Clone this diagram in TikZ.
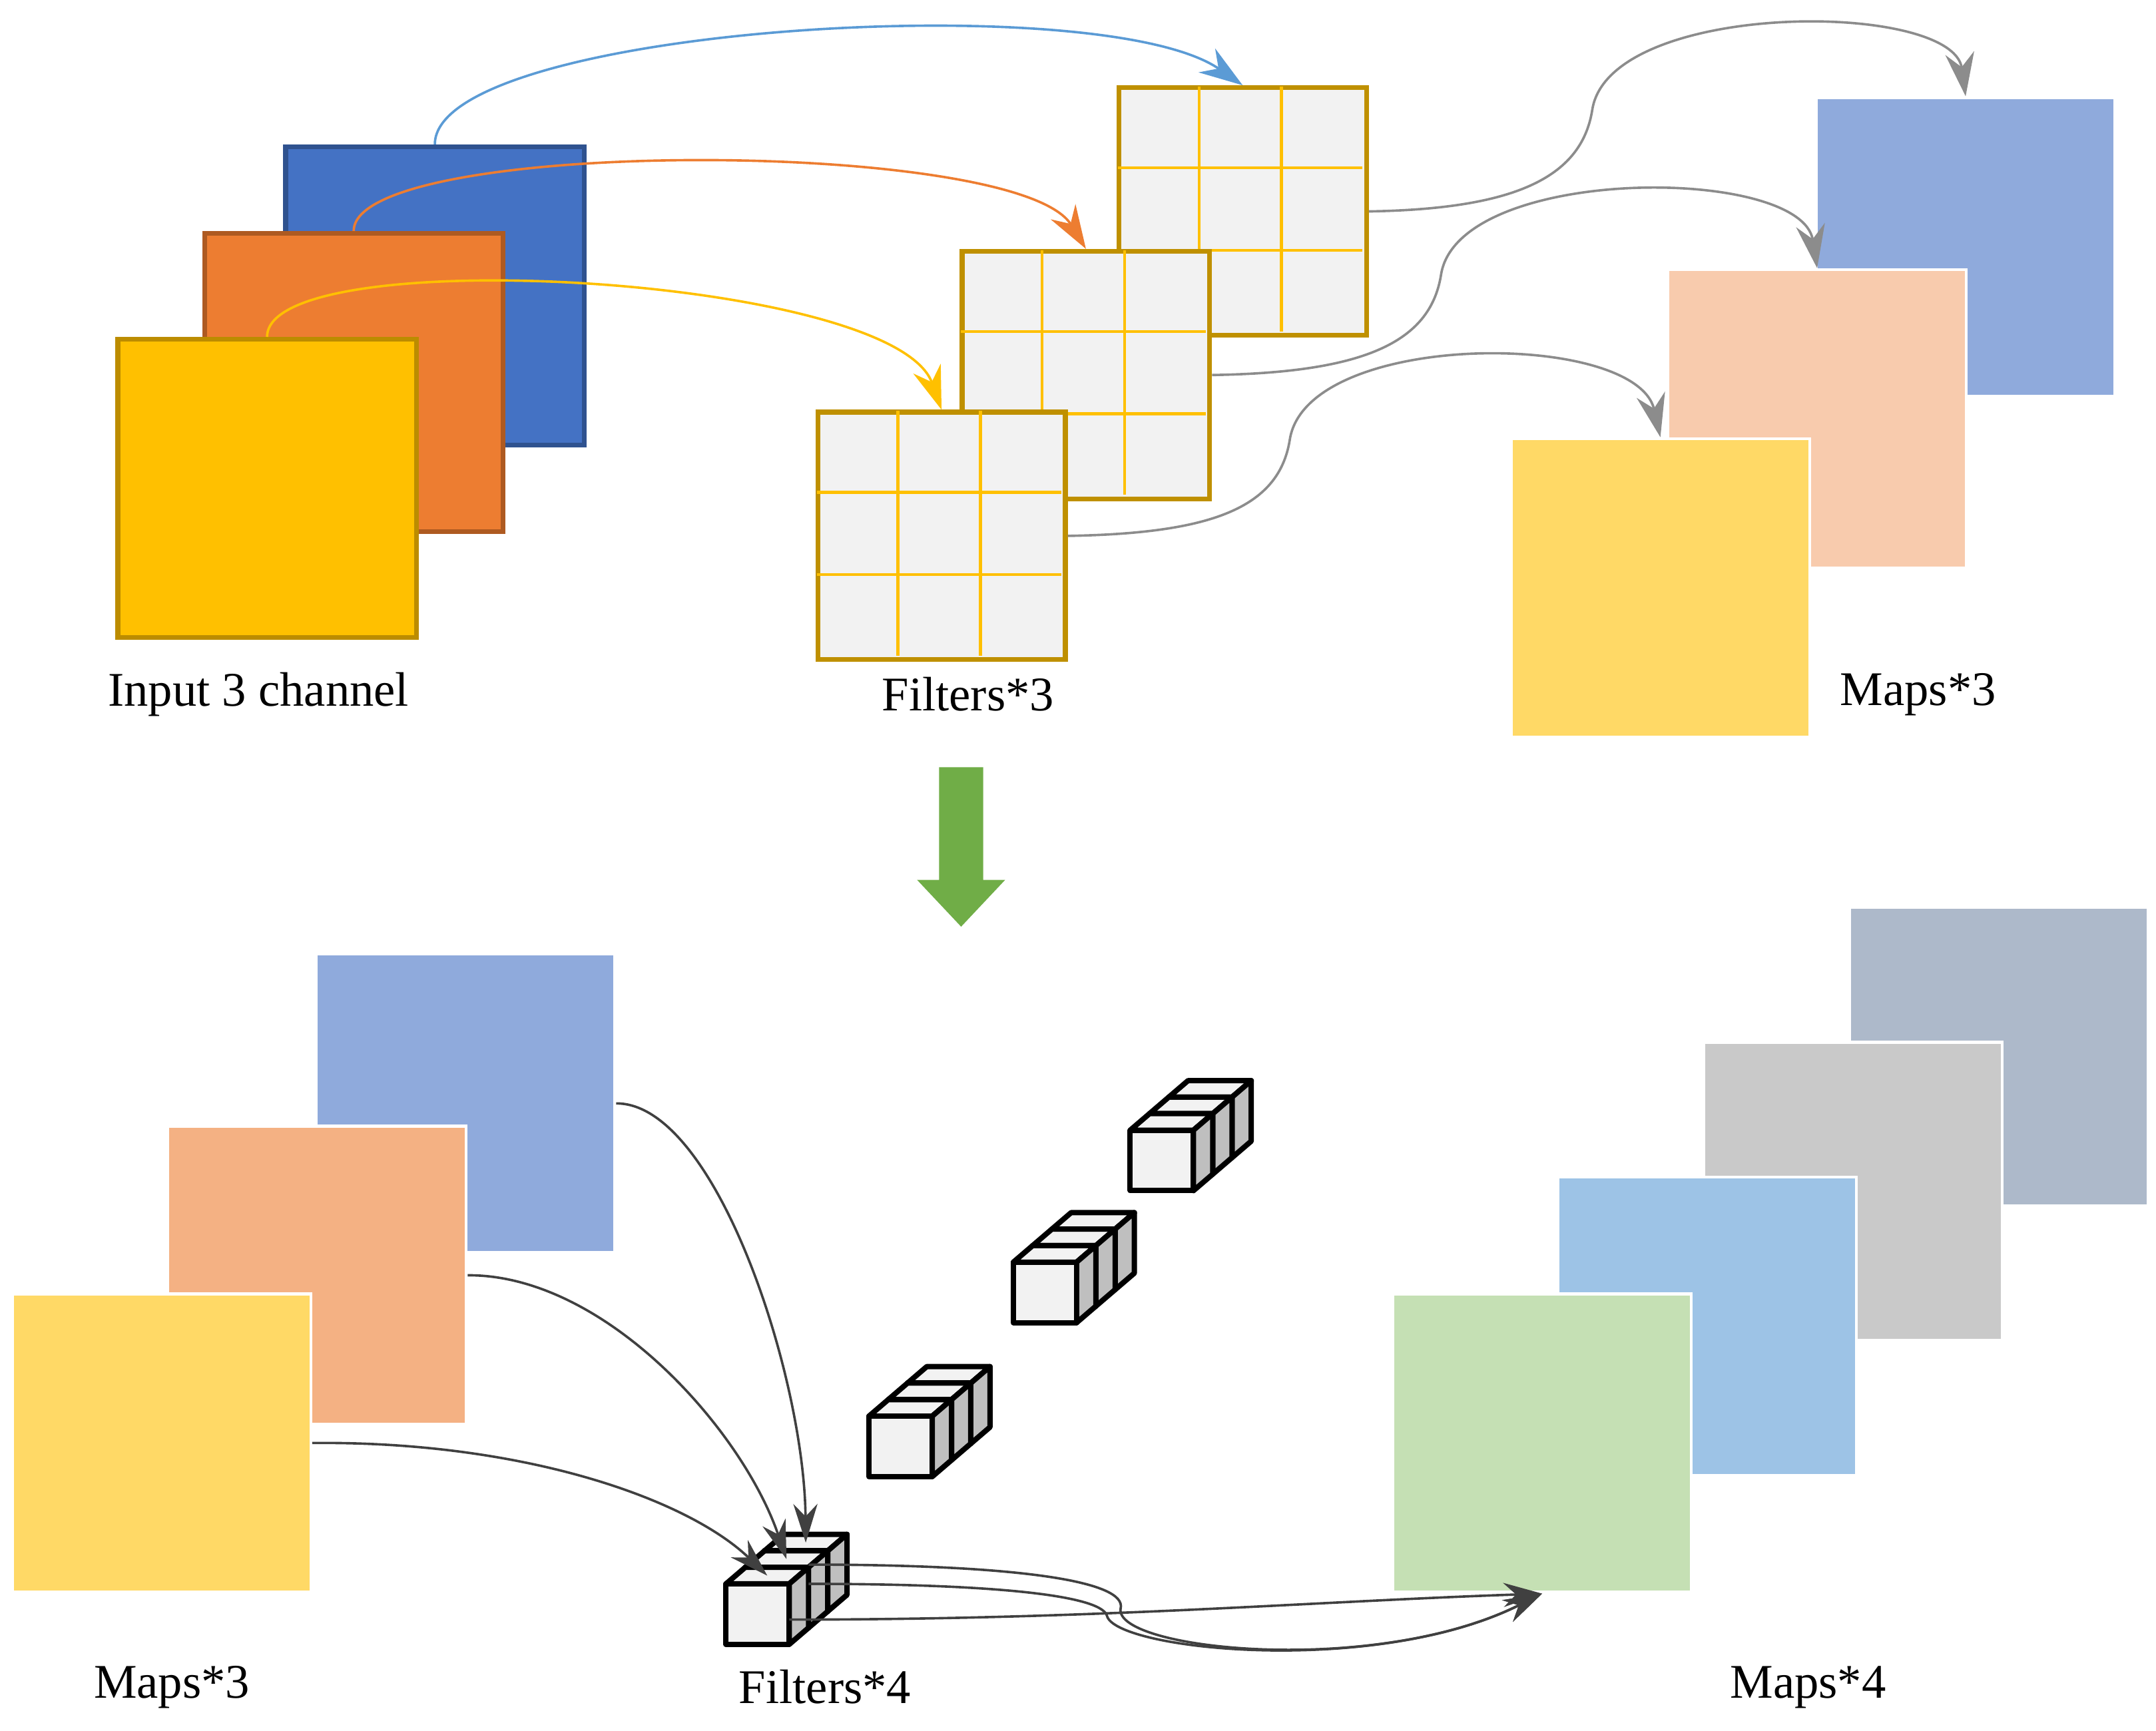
\documentclass[tikz,border=0pt]{standalone}
\usepackage{fontspec}
\setmainfont{Liberation Serif}
\usetikzlibrary{arrows.meta,calc}
\definecolor{inB}{HTML}{4472C4}\definecolor{inBd}{HTML}{2F528F}
\definecolor{inO}{HTML}{ED7D31}\definecolor{inOd}{HTML}{AE5A21}
\definecolor{inY}{HTML}{FFC000}\definecolor{inYd}{HTML}{BC8C00}
\definecolor{mB}{HTML}{8FAADC}\definecolor{mP}{HTML}{F8CBAD}\definecolor{mY}{HTML}{FFD966}
\definecolor{mO}{HTML}{F4B183}\definecolor{mG}{HTML}{ADB9CA}\definecolor{mGr}{HTML}{C9C9C9}
\definecolor{mLB}{HTML}{9DC3E6}\definecolor{mGn}{HTML}{C5E0B4}
\definecolor{arB}{HTML}{5B9BD5}\definecolor{gold}{HTML}{BF9000}\definecolor{grn}{HTML}{70AD47}
\tikzset{
 sq/.style={anchor=north west,inner sep=0,minimum width=217\unitx,minimum height=217\unity},
 inmap/.style={sq,draw=#1,line width=1pt},
 fmap/.style={sq,fill=#1,draw=white,line width=0.6pt},
 filt/.style={anchor=north west,inner sep=0,minimum width=180\unitx,minimum height=180\unity,fill=black!5,draw=gold,line width=1pt},
 conn/.style={line width=0.5pt,-{Stealth[length=9pt,width=6pt]}},
 lbl/.style={font=\fontsize{10}{12}\selectfont},
 cube/.style={draw=black,line width=1.1pt,line join=round},
 cstack/.pic={
  \foreach \k in {2,1,0}{
   \pgfmathsetmacro\ox{\k*14}\pgfmathsetmacro\oy{-\k*12}
   \filldraw[cube,fill=black!5] (\ox,\oy) -- ++(14,-12) -- ++(46,0) -- ++(-14,12) -- cycle;
   \filldraw[cube,fill=black!25] (\ox+46,\oy) -- ++(14,-12) -- ++(0,44) -- ++(-14,12) -- cycle;
   \filldraw[cube,fill=black!5] (\ox,\oy) rectangle ++(46,44);
   \coordinate (-t\k) at (\ox+30,\oy-6);
  }
  \coordinate (-s2) at (60,-14);
  \coordinate (-s1) at (60,0);
  \coordinate (-f0) at (46,26);
 }
}
\def\unitx{\pgflinewidth}
\begin{document}
\begin{tikzpicture}[x=0.01cm,y=-0.01cm]
\def\unitx{*0.01cm}\def\unity{*0.01cm}
\useasboundingbox (0,0) rectangle (1568,1259);
% top input maps
\node[inmap=inBd,fill=inB] (ib) at (206,105) {};
\node[inmap=inOd,fill=inO] (io) at (147,168) {};
\node[inmap=inYd,fill=inY] (iy) at (84,245) {};
% filters
\foreach \n/\x/\y in {fa/812/62,fb/698/181,fc/593/298}{
 \node[filt] (\n) at (\x,\y) {};
 \draw[inY,line width=0.6pt] (\x+60,\y+1)--(\x+60,\y+179) (\x+120,\y+1)--(\x+120,\y+179)
   (\x+1,\y+60)--(\x+179,\y+60) (\x+1,\y+120)--(\x+179,\y+120);
}
% top maps
\node[fmap=mB] (ma) at (1320,70) {};
\node[fmap=mP] (mb) at (1212,195) {};
\node[fmap=mY] (mc) at (1098,318) {};
% labels
\node[lbl] (l1) at (188,505) {Input 3 channel};
\node[lbl] (l2) at (704,505) {Filters*3};
\node[lbl] (l3) at (1395,505) {Maps*3};
% connectors top
\draw[conn,arB] (ib.north) .. controls (316,20) and (800,-10) .. (fa.north);
\draw[conn,inO] (io.north) .. controls (257,100) and (740,100) .. (fb.north);
\draw[conn,inY] (iy.north) .. controls (194,175) and (650,200) .. (fc.north);
\draw[conn,black!45] (fa.east) .. controls (1100,152) and (1150,130) .. (1158,80) .. controls (1170,0) and (1420,0) .. (ma.north);
\draw[conn,black!45] (fb.east) .. controls (990,271) and (1040,250) .. (1048,200) .. controls (1060,120) and (1310,120) .. (mb.north);
\draw[conn,black!45] (fc.east) .. controls (880,388) and (930,370) .. (938,320) .. controls (950,240) and (1190,240) .. (mc.north);
% green arrow
\fill[grn] (683,558) -- (715,558) -- (715,640) -- (731,640) -- (699,674) -- (667,640) -- (683,640) -- cycle;
% bottom left maps
\node[fmap=mB] (bb) at (229,693) {};
\node[fmap=mO] (bo) at (121,818) {};
\node[fmap=mY] (by) at (8,940) {};
% bottom right maps
\node[fmap=mG] (rg) at (1344,659) {};
\node[fmap=mGr] (rr) at (1238,757) {};
\node[fmap=mLB] (rl) at (1132,855) {};
\node[fmap=mGn] (rn) at (1012,940) {};
% cubes
\pic (c1) at (822,822) {cstack};
\pic (c2) at (737,918) {cstack};
\pic (c3) at (632,1030) {cstack};
\pic (c4) at (528,1152) {cstack};
% bottom labels
\node[lbl] (l4) at (125,1227) {Maps*3};
\node[lbl] (l5) at (600,1227) {Filters*4};
\node[lbl] (l6) at (1315,1227) {Maps*4};
% bottom connectors
\tikzset{bc/.style={line width=0.5pt,black!75,-{Stealth[length=8pt,width=5pt]}}}
\draw[bc] (bb.east) .. controls (520,802) and (585,1000) .. (c4-t2);
\draw[bc] (bo.east) .. controls (440,927) and (540,1040) .. (c4-t1);
\draw[bc] (by.east) .. controls (380,1048) and (500,1090) .. (c4-t0);
\draw[bc] (c4-s2) .. controls (740,1138) and (820,1150) .. (815,1170) .. controls (810,1200) and (1000,1220) .. (rn.south);
\draw[bc] (c4-s1) .. controls (720,1152) and (800,1160) .. (805,1175) .. controls (810,1200) and (1000,1220) .. (rn.south);
\draw[bc] (c4-f0) .. controls (800,1178) and (950,1165) .. (rn.south);
\end{tikzpicture}
\end{document}
